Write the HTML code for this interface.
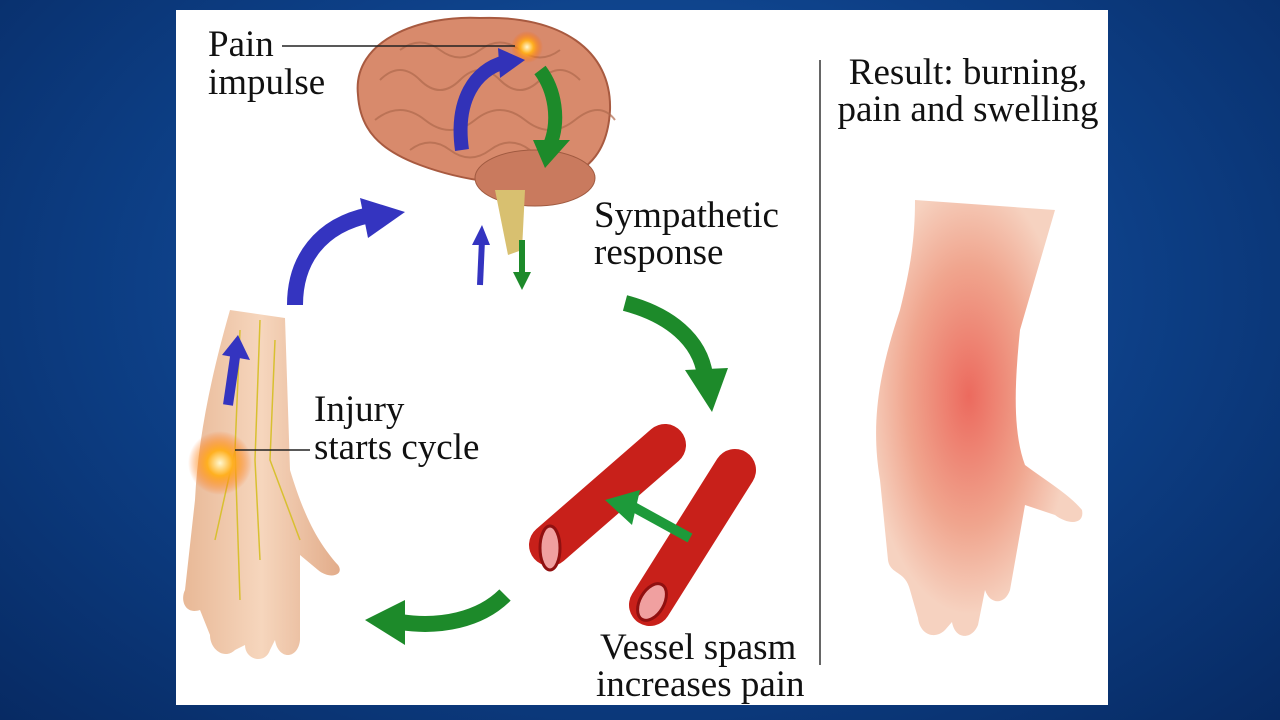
<!DOCTYPE html>
<html><head><style>
body{margin:0;width:1280px;height:720px;overflow:hidden;background:radial-gradient(ellipse at 50% 40%,#1a5fb0 0%,#0d3f86 55%,#072a63 100%);font-family:"Liberation Serif",serif;}
svg{position:absolute;left:0;top:0}
</style></head><body>
<svg width="1280" height="720" viewBox="0 0 1280 720">
<defs>
<radialGradient id="glow"><stop offset="0" stop-color="#fff8d0"/><stop offset="0.4" stop-color="#ffb020"/><stop offset="1" stop-color="#ff6000" stop-opacity="0"/></radialGradient>
<linearGradient id="skin" x1="0" x2="1"><stop offset="0" stop-color="#e8b896"/><stop offset="0.5" stop-color="#f6d6bd"/><stop offset="1" stop-color="#e2ac8a"/></linearGradient>
<radialGradient id="red" cx="0.45" cy="0.45"><stop offset="0" stop-color="#ec6a5e"/><stop offset="0.6" stop-color="#f0a58e"/><stop offset="1" stop-color="#f6d2c0"/></radialGradient>
</defs>
<rect x="176" y="10" width="932" height="695" fill="#fff"/>
<line x1="820" y1="60" x2="820" y2="665" stroke="#333" stroke-width="1.5"/>
<path d="M358 95 C352 40 420 15 480 18 C560 15 612 50 610 110 C608 150 590 170 560 180 C520 190 460 180 420 165 C380 150 360 130 358 95Z" fill="#d88a6c" stroke="#a85a40" stroke-width="2"/>
<ellipse cx="535" cy="178" rx="60" ry="28" fill="#c97a5e" stroke="#a05a40"/>
<path d="M495 190 L525 190 L522 250 L508 255 Z" fill="#d8c070"/>
<g stroke="#b06a4e" stroke-width="2" fill="none" opacity="0.7">
<path d="M380 80 q20 -20 40 0 t40 0 t40 0 t40 0 t40 0"/><path d="M375 120 q25 -20 50 0 t50 0 t50 0 t50 0 t40 0"/><path d="M400 50 q20 -15 40 0 t40 0 t40 0 t40 0"/><path d="M410 150 q20 -15 40 0 t40 0 t40 0"/>
</g>
<circle cx="527" cy="47" r="16" fill="url(#glow)"/>
<line x1="282" y1="46" x2="515" y2="46" stroke="#222" stroke-width="1.5"/>
<path d="M462 150 C455 100 475 70 505 62" stroke="#3232b8" stroke-width="14" fill="none"/>
<polygon points="498,48 525,60 500,78" fill="#3232b8"/>
<path d="M540 70 C555 90 560 120 550 145" stroke="#1d8a2a" stroke-width="14" fill="none"/>
<polygon points="533,140 570,140 545,168" fill="#1d8a2a"/>
<path d="M295 305 C295 260 320 225 370 215" stroke="#3434c0" stroke-width="16" fill="none"/>
<polygon points="360,198 405,212 368,238" fill="#3434c0"/>
<path d="M625 303 C670 315 700 340 705 375" stroke="#1d8a2a" stroke-width="16" fill="none"/>
<polygon points="685,370 728,368 712,412" fill="#1d8a2a"/>
<path d="M505 595 C480 620 440 628 400 622" stroke="#1d8a2a" stroke-width="16" fill="none"/>
<polygon points="405,600 365,620 405,645" fill="#1d8a2a"/>
<path d="M480 285 L482 240" stroke="#3434c0" stroke-width="6"/><polygon points="472,245 482,225 490,245" fill="#3434c0"/>
<path d="M522 240 L522 275" stroke="#1d8a2a" stroke-width="6"/><polygon points="513,272 522,290 531,272" fill="#1d8a2a"/>
<path d="M550 545 L665 445" stroke="#c8201a" stroke-width="42" stroke-linecap="round"/>
<path d="M650 605 L735 470" stroke="#c8201a" stroke-width="42" stroke-linecap="round"/>
<ellipse cx="550" cy="548" rx="10" ry="22" fill="#f0a0a0" stroke="#901010" stroke-width="3"/>
<ellipse cx="652" cy="602" rx="12" ry="20" fill="#f0a0a0" stroke="#901010" stroke-width="3" transform="rotate(30 652 602)"/>
<path d="M690 538 L630 505" stroke="#1d9a3a" stroke-width="10"/><polygon points="640,490 605,500 632,525" fill="#1d9a3a"/>
<path d="M230 310 L285 318 L290 470 C305 520 320 545 338 565 C345 575 330 580 318 570 L300 555 L300 640 C298 660 278 660 275 640 L270 650 C265 665 245 660 245 645 L235 650 C225 660 210 650 210 635 L200 610 C185 615 180 600 185 590 L195 500 C198 440 210 380 230 310Z" fill="url(#skin)"/>
<g stroke="#d8c030" stroke-width="1.5" fill="none"><path d="M240 330 L235 450 L215 540"/><path d="M260 320 L255 460 L260 560"/><path d="M275 340 L270 460 L300 540"/><path d="M235 450 L240 600"/></g>
<path d="M228 405 L236 350" stroke="#3434c0" stroke-width="10"/><polygon points="222,355 238,335 250,360" fill="#3434c0"/>
<circle cx="220" cy="463" r="32" fill="url(#glow)"/>
<line x1="235" y1="450" x2="310" y2="450" stroke="#222" stroke-width="1.5"/>
<path d="M915 200 L1055 210 L1020 330 C1015 380 1012 430 1025 465 C1045 480 1070 495 1082 510 C1085 525 1068 525 1055 515 L1025 505 L1010 590 C1005 605 990 605 985 590 L978 625 C972 640 955 640 952 622 L945 630 C935 640 920 635 918 618 L910 590 C905 570 890 575 888 560 L880 480 C870 420 880 370 900 310 C910 270 915 240 915 200Z" fill="url(#red)"/>
<g font-size="37" fill="#111">
<text x="208" y="56">Pain</text><text x="208" y="94">impulse</text>
<text x="968" y="84" text-anchor="middle">Result: burning,</text>
<text x="968" y="121" text-anchor="middle">pain and swelling</text>
<text x="594" y="227">Sympathetic</text><text x="594" y="264">response</text>
<text x="314" y="421">Injury</text><text x="314" y="459">starts cycle</text>
<text x="600" y="659">Vessel spasm</text><text x="596" y="696">increases pain</text>
</g>
</svg>
</body></html>
